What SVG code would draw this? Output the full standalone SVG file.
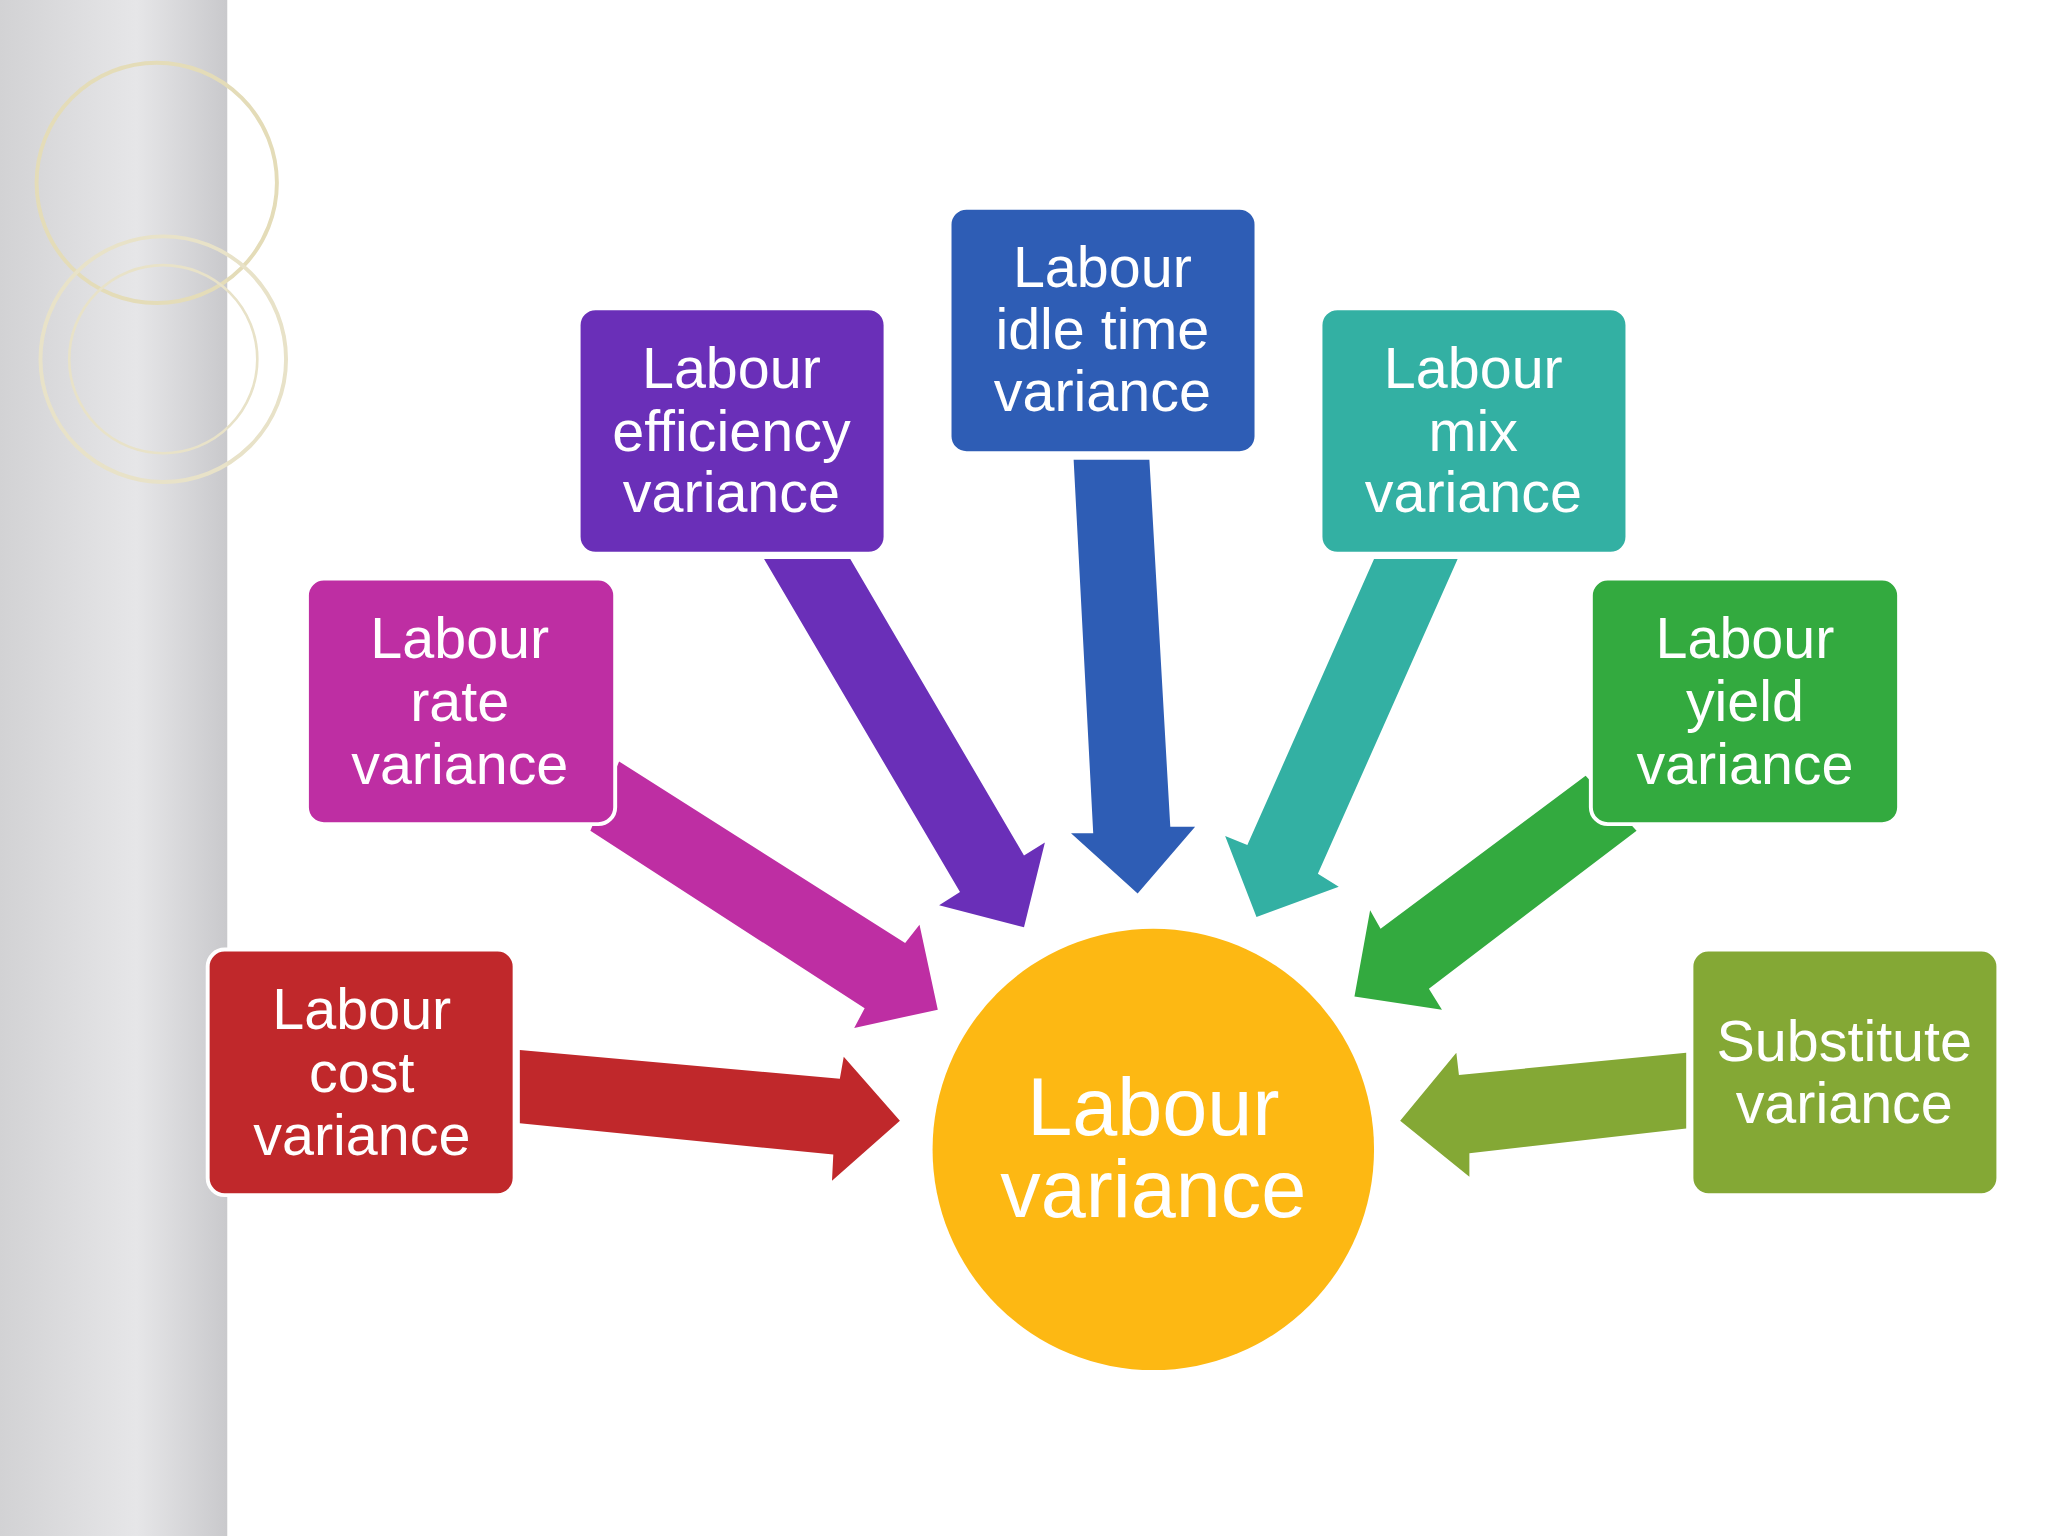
<svg xmlns="http://www.w3.org/2000/svg" width="2048" height="1536" viewBox="0 0 2048 1536">
<defs>
<linearGradient id="side" x1="0" y1="0" x2="1" y2="0"><stop offset="0" stop-color="#d2d2d4"/><stop offset="0.6" stop-color="#e6e6e8"/><stop offset="1" stop-color="#c9c9cc"/></linearGradient>
<style>
.box{stroke:#fff;stroke-width:3}
.t{font-family:"Liberation Sans",Arial,sans-serif;font-size:44px;fill:#fff;text-anchor:middle}
.c{font-family:"Liberation Sans",Arial,sans-serif;font-size:62px;fill:#fff;text-anchor:middle}
</style>
</defs>
<rect width="2048" height="1536" fill="#fff"/>
<g transform="scale(1.30612)">
<g id="background">
<rect x="0" y="0" width="174" height="1176" fill="url(#side)"/>
<circle cx="120" cy="140" r="92" fill="none" stroke="#e4dcb8" stroke-width="3"/>
<circle cx="125" cy="275" r="94" fill="none" stroke="#e8e2c8" stroke-width="3"/>
<circle cx="125" cy="275" r="72" fill="none" stroke="#e8e2c8" stroke-width="2"/>
</g>
<g id="connectors">
<polygon fill="#C0282B" points="398,804 643,826 646,809 689,858 637,904 638,884 398,860"/>
<polygon fill="#BE2EA3" points="474,583 693,722 704,708 718,773 654,787 662,772 452,636"/>
<polygon fill="#6A2FB8" points="585,428 651,428 784,655 800,645 784,710 719,693 735,683"/>
<polygon fill="#2E5DB5" points="822,352 880,352 896,633 915,633 871,684 820,638 837,638"/>
<polygon fill="#33B0A3" points="1052,428 1116,428 1009,669 1025,679 962,702 938,640 955,647"/>
<polygon fill="#33AA3F" points="1214,594 1057,711 1049,697 1037,763 1104,773 1094,757 1253,636"/>
<polygon fill="#84A835" points="1291,806 1117,823 1115,806 1072,858 1125,901 1125,883 1291,864"/>
</g>
<g id="cost"><rect class="box" x="159" y="727" width="235" height="188" rx="13" fill="#C0282B"/>
<text class="t" x="277" y="788">Labour</text><text class="t" x="277" y="836">cost</text><text class="t" x="277" y="884">variance</text></g>
<g id="rate"><rect class="box" x="235" y="443" width="236" height="188" rx="13" fill="#BE2EA3"/>
<text class="t" x="352" y="504">Labour</text><text class="t" x="352" y="552">rate</text><text class="t" x="352" y="600">variance</text></g>
<g id="efficiency"><rect class="box" x="443" y="236" width="235" height="188" rx="13" fill="#6A2FB8"/>
<text class="t" x="560" y="297">Labour</text><text class="t" x="560" y="345">efficiency</text><text class="t" x="560" y="392">variance</text></g>
<g id="idle"><rect class="box" x="727" y="159" width="235" height="188" rx="13" fill="#2E5DB5"/>
<text class="t" x="844" y="220">Labour</text><text class="t" x="844" y="267">idle time</text><text class="t" x="844" y="315">variance</text></g>
<g id="mix"><rect class="box" x="1011" y="236" width="235" height="188" rx="13" fill="#33B0A3"/>
<text class="t" x="1128" y="297">Labour</text><text class="t" x="1128" y="345">mix</text><text class="t" x="1128" y="392">variance</text></g>
<g id="yield"><rect class="box" x="1218" y="443" width="236" height="188" rx="13" fill="#33AA3F"/>
<text class="t" x="1336" y="504">Labour</text><text class="t" x="1336" y="552">yield</text><text class="t" x="1336" y="600">variance</text></g>
<g id="substitute"><rect class="box" x="1295" y="727" width="235" height="188" rx="13" fill="#84A835"/>
<text class="t" x="1412" y="812">Substitute</text><text class="t" x="1412" y="860">variance</text></g>
<g id="center"><circle cx="883" cy="880" r="169" fill="#FDB813"/>
<text class="c" x="883" y="869">Labour</text><text class="c" x="883" y="932">variance</text></g>
</g>
</svg>
